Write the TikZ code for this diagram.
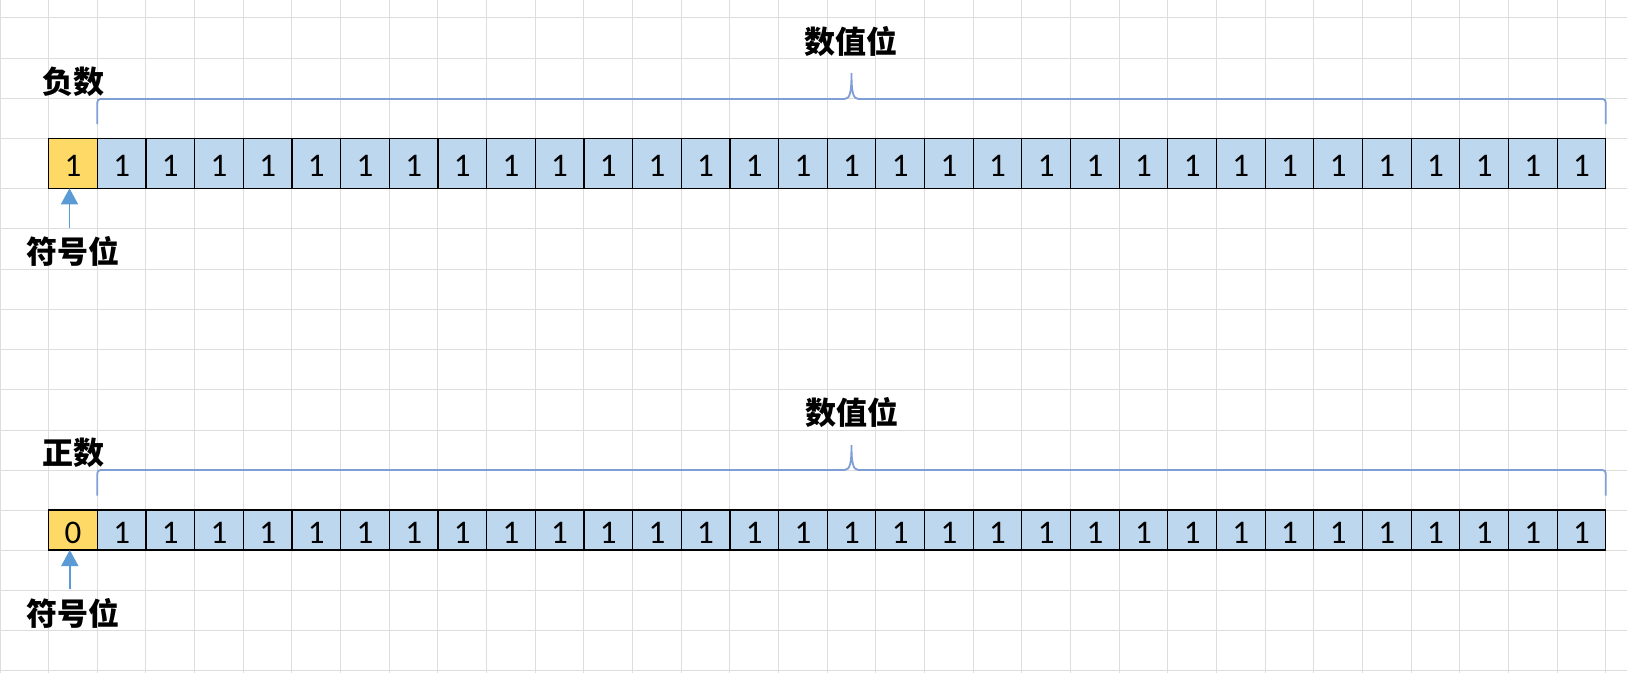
\documentclass[tikz,border=0pt]{standalone}
\usepackage{fontspec}
\setmainfont{Carlito}
\newfontfamily\cjk{Noto Sans CJK SC}
\usetikzlibrary{arrows.meta}
\definecolor{gridc}{HTML}{DDDDDD}
\definecolor{signc}{HTML}{FFD966}
\definecolor{valc}{HTML}{BDD7EE}
\definecolor{bracec}{HTML}{7F9ED6}
\definecolor{arrowc}{HTML}{5B9BD5}
\begin{document}
\begin{tikzpicture}[x=1pt,y=-1pt,
  cellbox/.style={draw=black,line width=1.2pt,minimum width=48.66pt,inner sep=0pt,outer sep=0pt,
    font=\fontsize{33}{33}\selectfont,text height=26pt,text depth=0pt},
  signcell/.style={cellbox,fill=signc},
  valcell/.style={cellbox,fill=valc},
  lbl/.style={font=\cjk\bfseries\fontsize{31}{31}\selectfont,inner sep=0pt},
  bracestyle/.style={draw=bracec,line width=1.8pt},
  arrowstyle/.style={draw=arrowc,line width=1.6pt,-{Triangle[width=17pt,length=16pt]}},
  gridline/.style={draw=gridc,line width=1pt}]
\useasboundingbox[fill=white] (0,0) rectangle (1627,673);
% grid
\foreach \k in {0,...,33} \draw[gridline] ({\k*48.66},0) -- ({\k*48.66},673);
\foreach \y in {17.6,58,98.5,138.3,188.3,228.8,269.2,309,349,389.5,430,470,510,550,590,630.5,670.5}
  \draw[gridline] (0,\y) -- (1627,\y);
% upper row (negative)
\node[signcell,minimum height=50pt] (s1) at (72.99,163.3) {1};
\foreach \i in {1,...,31}
  \node[valcell,minimum height=50pt] (a\i) at ({48.66*(1.5+\i)},163.3) {1};
% lower row (positive)
\node[signcell,minimum height=40pt] (s2) at (72.99,530) {0};
\foreach \i in {1,...,31}
  \node[valcell,minimum height=40pt] (b\i) at ({48.66*(1.5+\i)},530) {1};
% braces
\foreach \yt/\yp/\ye in {99/73/124, 470/445/495.5}{
  \draw[bracestyle] (97.32,\ye) -- (97.32,{\yt+7}) .. controls (97.32,\yt) .. (104.32,\yt)
    -- (844.5,\yt) .. controls (850,\yt) and (851.5,{\yt-7}) .. (851.5,\yp)
    .. controls (851.5,{\yt-7}) and (853,\yt) .. (858.5,\yt)
    -- (1598.7,\yt) .. controls (1605.7,\yt) .. (1605.7,{\yt+7}) -- (1605.7,\ye);
}
% labels
\node[lbl] (val1) at (851,42) {数值位};
\node[lbl] (neg) at (73.3,81.5) {负数};
\node[lbl] (sb1) at (73.3,251.5) {符号位};
\node[lbl] (val2) at (852,412.5) {数值位};
\node[lbl] (pos) at (73.3,453) {正数};
\node[lbl] (sb2) at (73.3,613) {符号位};
% arrows
\coordinate (t1) at (69.5,228);
\coordinate (t2) at (69.8,589);
\draw[arrowstyle] (t1) -- (t1 |- s1.south);
\draw[arrowstyle] (t2) -- (t2 |- s2.south);
\end{tikzpicture}
\end{document}
